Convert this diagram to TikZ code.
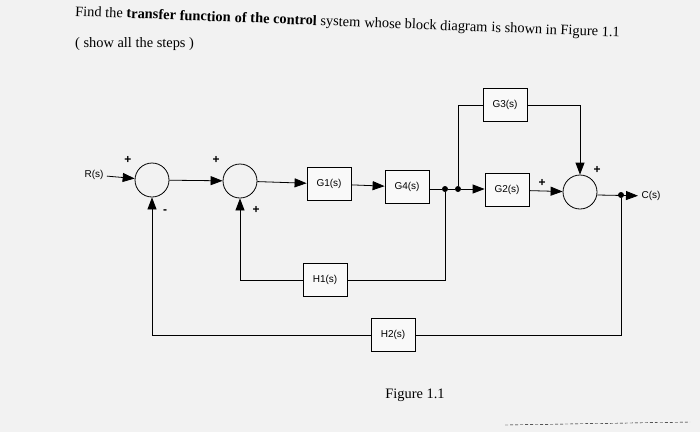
\documentclass[tikz,border=0pt]{standalone}
\usepackage{fontspec}
\setmainfont{Liberation Serif}
\newfontfamily\dsans{Liberation Sans}
\usetikzlibrary{arrows.meta}
\begin{document}
\begin{tikzpicture}[x=1pt,y=-1pt,
  blk/.style={draw,thick,fill=white!95!gray,minimum width=44pt,minimum height=33pt,font=\dsans\normalsize},
  sumj/.style={draw,thick,circle,minimum size=34pt,inner sep=0pt},
  sig/.style={font=\dsans\normalsize},
  sgn/.style={font=\dsans\large\bfseries},
  arr/.style={thick,-{Triangle[length=12pt,width=9pt]}},
  ln/.style={thick},
  ttl/.style={anchor=base west,font=\Large,rotate=-2.2,inner sep=0pt},
  dotn/.style={circle,fill,inner sep=0pt,minimum size=6pt}]
\fill[gray!10] (0,0) rectangle (700,432);
\useasboundingbox (0,0) rectangle (700,432);
\node[ttl] (t1a) at (75,16) {Find the \textbf{transfer function}};
\node[ttl] (t1b) at (t1a.base east) {\ \textbf{of the control} system};
\node[ttl] (t1c) at (t1b.base east) {\ whose block diagram};
\node[ttl] (t1d) at (t1c.base east) {\ is shown in Figure 1.1};
\node[anchor=west,font=\Large,inner sep=0pt] (t2) at (75,44) {( show all the steps )};
\node[sig] (R) at (94,175) {R(s)};
\node[sumj] (s1) at (152,180) {};
\node[sumj] (s2) at (240,181) {};
\node[blk] (G1) at (329,184) {G1(s)};
\node[blk] (G4) at (407,187) {G4(s)};
\node[blk] (G2) at (507,190) {G2(s)};
\node[blk] (G3) at (505,105) {G3(s)};
\node[sumj] (s3) at (580,192) {};
\node[sig,anchor=west] (C) at (638,196) {C(s)};
\node[blk] (H1) at (325,280) {H1(s)};
\node[blk] (H2) at (393,335) {H2(s)};
\node[dotn] (d1) at (445,189) {};
\node[dotn] (d2) at (458,189) {};
\node[dotn] (d3) at (621,195) {};
\draw[arr] (R) -- (s1);
\draw[arr] (s1) -- (s2);
\draw[arr] (s2) -- (G1);
\draw[arr] (G1) -- (G4);
\draw[ln] (G4.east |- d1) -- (d1) -- (d2);
\draw[arr] (d2) -- (G2.west |- d2);
\draw[arr] (G2) -- (s3);
\draw[arr] (s3.east |- d3) -- (C);
\draw[ln] (d2) |- (G3.west);
\draw[arr] (G3.east) -| (s3.north);
\draw[ln] (d1) |- (H1.east);
\draw[arr] (H1.west) -| (s2.south);
\draw[ln] (d3) |- (H2.east);
\draw[arr] (H2.west) -| (s1.south);
\node[sgn] (p1) at (128,160) {+};
\node[sgn] (m1) at (165,212) {-};
\node[sgn] (p2) at (216,160) {+};
\node[sgn] (p3) at (256,210) {+};
\node[sgn] (p4) at (597,170) {+};
\node[sgn] (p5) at (542,183) {+};
\node[font=\Large] (fig) at (415,395) {Figure 1.1};
\draw[densely dashed,thin] (505,425) -- (690,422);
\end{tikzpicture}
\end{document}
